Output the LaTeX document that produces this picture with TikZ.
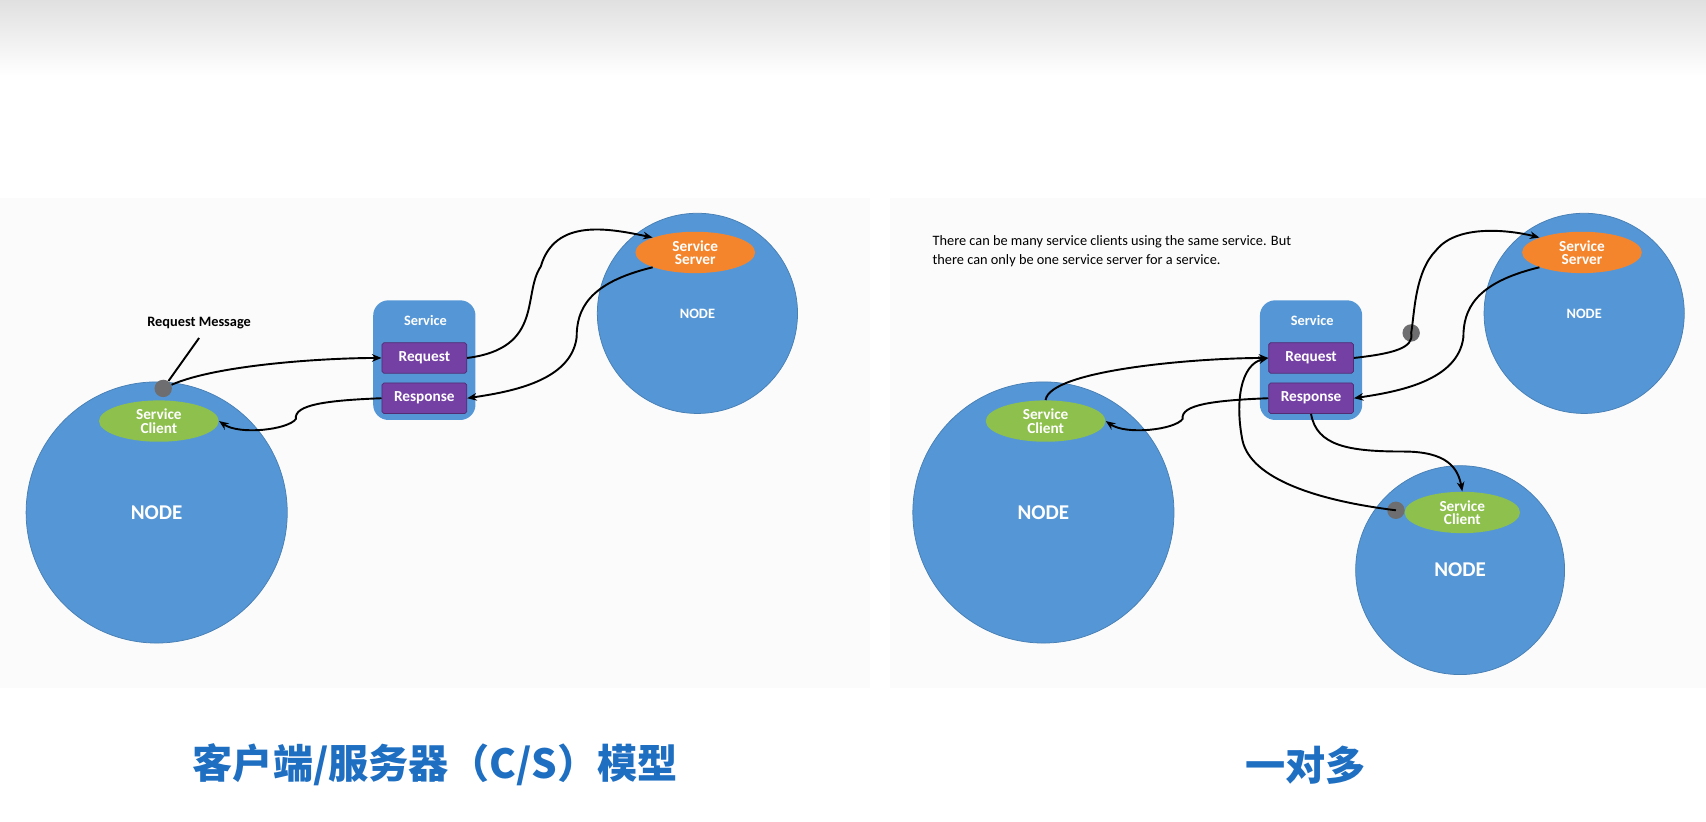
\documentclass[tikz,border=0pt]{standalone}
\usepackage{fontspec}
\setmainfont{Carlito}
\newfontfamily\cjk{Noto Sans CJK SC}
\usetikzlibrary{shapes.geometric,arrows.meta}
\definecolor{nb}{HTML}{5597D6}
\definecolor{pu}{HTML}{7440A4}
\definecolor{gr}{HTML}{8DC04C}
\definecolor{orr}{HTML}{F5852C}
\definecolor{dg}{HTML}{6E6E70}
\definecolor{tb}{HTML}{1E6EC2}
\begin{document}
\begin{tikzpicture}[x=0.02cm,y=-0.02cm,
 circ/.style={circle,fill=nb,draw=nb!85!black,line width=0.4pt,inner sep=0,text=white,font=\bfseries},
 ell/.style={ellipse,minimum width=110*0.02cm,minimum height=38*0.02cm,inner sep=0,text=white,font=\bfseries\fontsize{8}{9}\selectfont,align=center},
 box/.style={fill=pu,draw=pu!70!black,rounded corners=1pt,minimum width=78*0.02cm,minimum height=28*0.02cm,inner sep=0,text=white,font=\bfseries\fontsize{8}{9}\selectfont},
 svc/.style={fill=nb,rounded corners=8pt,minimum width=94*0.02cm,minimum height=110*0.02cm,inner sep=0},
 dot/.style={circle,fill=dg,minimum size=16*0.02cm,inner sep=0},
 con/.style={line width=1pt,-{Stealth[length=5pt,width=4pt]}},
 ttl/.style={text=tb,font=\cjk\bfseries\fontsize{21}{24}\selectfont}]
\useasboundingbox (0,0) rectangle (1568,755);
\shade[top color=black!12,bottom color=white] (0,0) rectangle (1568,70);
\fill[black!1.5] (0,182) rectangle (800,632);
\fill[black!1.5] (818,182) rectangle (1568,632);
% ---------- left ----------
\node[circ,minimum size=240*0.02cm,font=\bfseries\fontsize{11}{12}\selectfont] (n1) at (144,471) {NODE};
\node[ell,fill=gr] (c1) at (146,387) {Service\\[-2pt]Client};
\node[dot] (d1) at (150,357) {};
\node[font=\bfseries\fontsize{7.5}{9}\selectfont] (rm) at (183,297) {Request Message};
\draw[line width=1pt] (rm.south) ++(0,2) -- (d1);
\node[svc] (s1) at (390,331) {};
\node[text=white,font=\bfseries\fontsize{7.5}{9}\selectfont] (st1) at (391,295) {Service};
\node[box] (rq1) at (390,329) {Request};
\node[box] (rs1) at (390,366) {Response};
\node[circ,minimum size=184*0.02cm,font=\bfseries\fontsize{7.5}{9}\selectfont] (sv1) at (641,288) {NODE};
\node[ell,fill=orr] (se1) at (639,232) {Service\\[-2pt]Server};
\draw[con] (d1) .. controls (200,335) and (300,329) .. (rq1.west);
\draw[con] (rq1.east) .. controls (500,320) and (480,270) .. (497,245) .. controls (510,200) and (560,210) .. (se1.north west);
\draw[con] (se1.south west) .. controls (540,260) and (530,285) .. (530,310) .. controls (525,350) and (470,360) .. (rs1.east);
\draw[con] (rs1.west) .. controls (300,368) and (270,372) .. (272,385) .. controls (265,395) and (220,400) .. (c1.east);
% ---------- right ----------
\node[font=\fontsize{7.5}{10}\selectfont,align=left,anchor=north west] (tx) at (851,210) {There can be many service clients using the same service. But\\there can only be one service server for a service.};
\node[circ,minimum size=240*0.02cm,font=\bfseries\fontsize{11}{12}\selectfont] (n2) at (959,471) {NODE};
\node[ell,fill=gr] (c2) at (961,387) {Service\\[-2pt]Client};
\node[svc] (s2) at (1205,331) {};
\node[text=white,font=\bfseries\fontsize{7.5}{9}\selectfont] (st2) at (1206,295) {Service};
\node[box] (rq2) at (1205,329) {Request};
\node[box] (rs2) at (1205,366) {Response};
\node[circ,minimum size=184*0.02cm,font=\bfseries\fontsize{7.5}{9}\selectfont] (sv2) at (1456,288) {NODE};
\node[ell,fill=orr] (se2) at (1454,232) {Service\\[-2pt]Server};
\node[circ,minimum size=192*0.02cm,font=\bfseries\fontsize{11}{12}\selectfont] (n3) at (1342,524) {NODE};
\node[ell,fill=gr,minimum width=106*0.02cm] (c3) at (1344,471) {Service\\[-2pt]Client};
\node[dot] (d2) at (1297,306) {};
\node[dot] (d3) at (1283,469) {};
\draw[con] (c2.north) .. controls (965,340) and (1100,329) .. (rq2.west);
\draw[con] (rq2.east) .. controls (1280,325) and (1300,320) .. (d2.center) .. controls (1300,290) and (1300,250) .. (1320,230) .. controls (1340,205) and (1390,212) .. (se2.north west);
\draw[con] (se2.south west) .. controls (1355,260) and (1345,285) .. (1345,310) .. controls (1340,350) and (1285,360) .. (rs2.east);
\draw[con] (rs2.west) .. controls (1115,368) and (1085,372) .. (1087,385) .. controls (1080,395) and (1035,400) .. (c2.east);
\draw[con] (rs2.south) .. controls (1210,410) and (1240,415) .. (1290,415) .. controls (1330,415) and (1340,430) .. (c3.north);
\draw[con] (d3.center) .. controls (1210,460) and (1150,440) .. (1142,405) .. controls (1135,370) and (1140,335) .. (rq2.west);
% ---------- titles ----------
\node[ttl] (t1) at (400,703) {客户端/服务器（C/S）模型};
\node[ttl] (t2) at (1200,703) {一对多};
\end{tikzpicture}
\end{document}
